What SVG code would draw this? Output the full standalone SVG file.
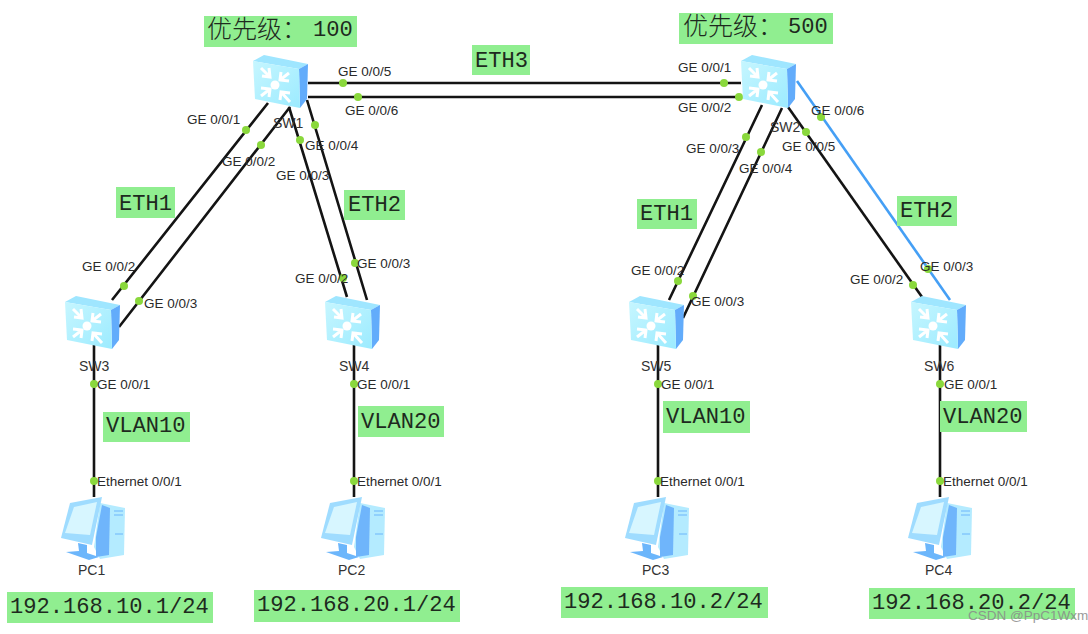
<svg xmlns="http://www.w3.org/2000/svg" width="1088" height="634" viewBox="0 0 1088 634">
<style>
.l{fill:none;stroke:#141414;stroke-width:2.6}
.b{fill:none;stroke:#459ff5;stroke-width:2.6}
.d{fill:#8ad83c}
.t{font-family:"Liberation Sans",Arial,sans-serif;font-size:13.5px;fill:#2a2a2a}
.n{font-family:"Liberation Sans",Arial,sans-serif;font-size:14px;fill:#333}
.bx{fill:#90ee90}
.m{font-family:"Liberation Mono","DejaVu Sans Mono",monospace;font-size:22.1px;fill:#1e2a1e}
.h{font-family:"Noto Sans CJK SC",sans-serif;font-size:25px;font-weight:300;fill:#1e2a1e}
.c{fill:none;stroke:#fff;stroke-width:3}
</style>
<defs>
<linearGradient id="fg" x1="0" y1="0" x2="1" y2="1"><stop offset="0" stop-color="#c6f6ff"/><stop offset="1" stop-color="#9cebff"/></linearGradient>
<symbol id="sw" width="56" height="54" viewBox="0 0 56 54" overflow="visible">
<polygon points="0,6 11,0 55,9 46,14" fill="#9fe6ff"/>
<polygon points="55,9 54,44 47,53 46,14" fill="#62acfb"/>
<polygon points="0,6 46,14 47,53 2,44" fill="url(#fg)"/>
<circle cx="22" cy="30" r="4.5" fill="#fff"/>
<path class="c" d="M8,13 L17,22 M9,21 L17,22 L16,13 M36,18 L27,25 M28,17 L27,25 L36,26 M8,41 L17,34 M8,33 L17,34 L16,42 M37,47 L28,37 M27,45 L28,37 L37,38"/>
</symbol>
<symbol id="pc" width="66" height="64" viewBox="0 0 66 64" overflow="visible">
<polygon points="40,6 65,11 64,58 40,62 34,50" fill="#b4ebff"/>
<polygon points="42,8 50,11 49,58 36,60 36,40" fill="#6fb5fb"/>
<polygon points="10,6 42,0 32,48 1,41" fill="#9fdcff"/>
<polygon points="14,10 37,5 30,38 5,36" fill="#d7f6ff"/>
<polygon points="18,46 27,48 27,56 39,60 29,63 6,55 19,54" fill="#6cb6fb"/>
<path d="M54,14 H63 M54,18 H63 M55,37 H63" stroke="#6cb6fb" stroke-width="1" fill="none"/>
</symbol>
</defs>
<rect width="1088" height="634" fill="#fff"/>
<g id="connectors">
<path class="l" d="M308,83 H741 M308,97 H741"/>
<path class="l" d="M268,103 L112,300 M290,107 L119,327"/>
<path class="l" d="M307,100 L367,300 M289,107 L347,297"/>
<path class="l" d="M94,345 V497 M354,345 V497 M658,345 V497 M940,345 V497"/>
<path class="l" d="M762,105 L669,300 M782,108 L683,318"/>
<path class="l" d="M788,107 L922,297"/>
<path class="b" d="M797,81 L950,300"/>
</g>
<g id="dots" class="d">
<circle cx="343" cy="83" r="4"/><circle cx="358" cy="97" r="4"/>
<circle cx="246" cy="130" r="4"/><circle cx="261" cy="145" r="4"/>
<circle cx="300" cy="140" r="4"/><circle cx="315" cy="125" r="4"/>
<circle cx="124" cy="286" r="4"/><circle cx="139" cy="301" r="4"/>
<circle cx="343" cy="278" r="4"/><circle cx="355" cy="263" r="4"/>
<circle cx="94" cy="384" r="4"/><circle cx="354" cy="384" r="4"/><circle cx="658" cy="384" r="4"/><circle cx="940" cy="384" r="4"/>
<circle cx="94" cy="481" r="4"/><circle cx="354" cy="481" r="4"/><circle cx="658" cy="481" r="4"/><circle cx="940" cy="481" r="4"/>
<circle cx="724" cy="83" r="4"/><circle cx="739" cy="97" r="4"/>
<circle cx="746" cy="137" r="4"/><circle cx="761" cy="152" r="4"/>
<circle cx="806" cy="132" r="4"/><circle cx="821" cy="117" r="4"/>
<circle cx="678" cy="281" r="4"/><circle cx="693" cy="296" r="4"/>
<circle cx="913" cy="285" r="4"/><circle cx="928" cy="269" r="4"/>
</g>
<g id="SW1"><use href="#sw" x="253" y="55" width="56" height="54"/><text class="n" x="273" y="128">SW1</text></g>
<g id="SW2"><use href="#sw" x="741" y="55" width="56" height="54"/><text class="n" x="770" y="132">SW2</text></g>
<g id="SW3"><use href="#sw" x="65" y="296" width="56" height="54"/><text class="n" x="79" y="371">SW3</text></g>
<g id="SW4"><use href="#sw" x="325" y="296" width="56" height="54"/><text class="n" x="339" y="371">SW4</text></g>
<g id="SW5"><use href="#sw" x="629" y="296" width="56" height="54"/><text class="n" x="641" y="371">SW5</text></g>
<g id="SW6"><use href="#sw" x="911" y="296" width="56" height="54"/><text class="n" x="924" y="371">SW6</text></g>
<g id="PC1"><use href="#pc" x="60" y="497" width="66" height="64"/><text class="n" x="78" y="575">PC1</text></g>
<g id="PC2"><use href="#pc" x="320" y="497" width="66" height="64"/><text class="n" x="338" y="575">PC2</text></g>
<g id="PC3"><use href="#pc" x="624" y="497" width="66" height="64"/><text class="n" x="642" y="575">PC3</text></g>
<g id="PC4"><use href="#pc" x="907" y="497" width="66" height="64"/><text class="n" x="925" y="575">PC4</text></g>
<g id="port-labels" class="t">
<text x="338" y="76">GE 0/0/5</text><text x="345" y="115">GE 0/0/6</text>
<text x="187" y="124">GE 0/0/1</text><text x="222" y="166">GE 0/0/2</text>
<text x="276" y="180">GE 0/0/3</text><text x="305" y="150">GE 0/0/4</text>
<text x="82" y="271">GE 0/0/2</text><text x="144" y="308">GE 0/0/3</text>
<text x="295" y="283">GE 0/0/2</text><text x="357" y="268">GE 0/0/3</text>
<text x="97" y="389">GE 0/0/1</text><text x="357" y="389">GE 0/0/1</text><text x="661" y="389">GE 0/0/1</text><text x="944" y="389">GE 0/0/1</text>
<text x="97" y="486">Ethernet 0/0/1</text><text x="357" y="486">Ethernet 0/0/1</text><text x="660" y="486">Ethernet 0/0/1</text><text x="943" y="486">Ethernet 0/0/1</text>
<text x="678" y="72">GE 0/0/1</text><text x="678" y="112">GE 0/0/2</text>
<text x="686" y="153">GE 0/0/3</text><text x="739" y="173">GE 0/0/4</text>
<text x="782" y="151">GE 0/0/5</text><text x="811" y="115">GE 0/0/6</text>
<text x="631" y="275">GE 0/0/2</text><text x="691" y="306">GE 0/0/3</text>
<text x="850" y="284">GE 0/0/2</text><text x="920" y="271">GE 0/0/3</text>
</g>
<g id="callouts">
<rect class="bx" x="204" y="16" width="153" height="31"/><text class="h" x="207" y="38">优先级：<tspan class="m" x="313" y="36">100</tspan></text>
<rect class="bx" x="679" y="13" width="154" height="31"/><text class="h" x="683" y="35">优先级：<tspan class="m" x="788" y="33">500</tspan></text>
<rect class="bx" x="472" y="45" width="58" height="30"/><text class="m" x="475" y="67">ETH3</text>
<rect class="bx" x="116" y="187" width="59" height="31"/><text class="m" x="119" y="210">ETH1</text>
<rect class="bx" x="344" y="190" width="61" height="30"/><text class="m" x="348" y="211">ETH2</text>
<rect class="bx" x="637" y="199" width="60" height="30"/><text class="m" x="640" y="220">ETH1</text>
<rect class="bx" x="897" y="196" width="60" height="30"/><text class="m" x="900" y="217">ETH2</text>
<rect class="bx" x="103" y="412" width="87" height="30"/><text class="m" x="106" y="432">VLAN10</text>
<rect class="bx" x="358" y="406" width="86" height="31"/><text class="m" x="361" y="428">VLAN20</text>
<rect class="bx" x="663" y="401" width="87" height="32"/><text class="m" x="666" y="423">VLAN10</text>
<rect class="bx" x="940" y="401" width="87" height="31"/><text class="m" x="943" y="423">VLAN20</text>
<rect class="bx" x="7" y="592" width="206" height="31"/><text class="m" x="10" y="613">192.168.10.1/24</text>
<rect class="bx" x="254" y="590" width="206" height="32"/><text class="m" x="257" y="611">192.168.20.1/24</text>
<rect class="bx" x="561" y="587" width="207" height="31"/><text class="m" x="564" y="608">192.168.10.2/24</text>
<rect class="bx" x="869" y="588" width="206" height="31"/><text class="m" x="872" y="609">192.168.20.2/24</text>
</g>
<text x="968" y="620" font-family="Liberation Sans,sans-serif" font-size="13.5" fill="#8a8a8a" opacity="0.85">CSDN @PpC1Wxm</text>
</svg>
